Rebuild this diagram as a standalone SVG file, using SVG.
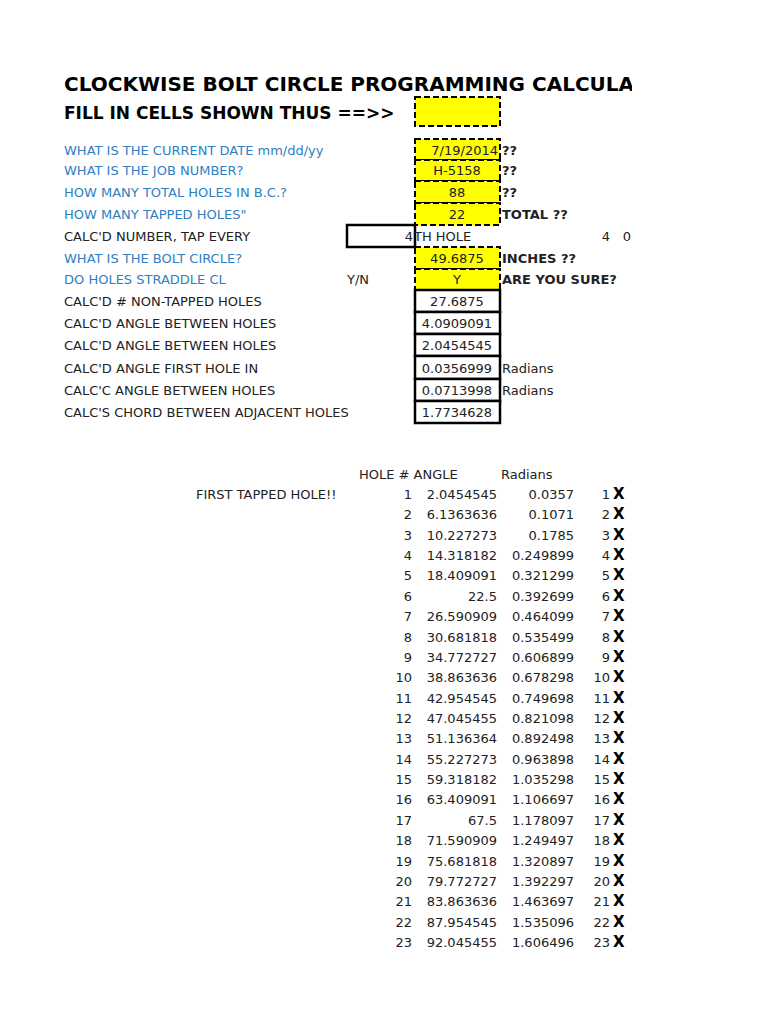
<svg xmlns="http://www.w3.org/2000/svg" width="768" height="1024" viewBox="0 0 768 1024">
<style>
text{font-family:"DejaVu Sans",sans-serif;font-size:13px;fill:#222}
.b{fill:#2f80c0}
.bd{font-weight:bold}
.r{text-anchor:end}
.c{text-anchor:middle}
.y{fill:#ffff00;stroke:#000;stroke-width:2;stroke-dasharray:6,3}
.k{fill:#fff;stroke:#000;stroke-width:2.5}
.x{font-weight:bold;font-size:15px;fill:#000}
</style>
<defs><clipPath id="cp"><rect x="0" y="60" width="632" height="40"/></clipPath></defs>
<rect width="768" height="1024" fill="#fff"/>
<text x="64" y="91" class="bd" style="font-size:20px;fill:#000" clip-path="url(#cp)">CLOCKWISE BOLT CIRCLE PROGRAMMING CALCULATOR</text>
<text x="64" y="119" class="bd" style="font-size:17px;fill:#000">FILL IN CELLS SHOWN THUS ==&gt;&gt;</text>
<g id="cells">
<rect class="y" x="415" y="97" width="85" height="29"/>
<rect class="y" x="415" y="139" width="85" height="21"/>
<rect class="y" x="415" y="160" width="85" height="21"/>
<rect class="y" x="415" y="181" width="85" height="22"/>
<rect class="y" x="415" y="203" width="85" height="22"/>
<rect class="k" x="347" y="225" width="68" height="22"/>
<rect class="y" x="415" y="247" width="85" height="22"/>
<rect class="y" x="415" y="269" width="85" height="21"/>
<rect class="k" x="415" y="290" width="85" height="22"/>
<rect class="k" x="415" y="312" width="85" height="22"/>
<rect class="k" x="415" y="334" width="85" height="22"/>
<rect class="k" x="415" y="356" width="85" height="23"/>
<rect class="k" x="415" y="379" width="85" height="22"/>
<rect class="k" x="415" y="401" width="85" height="22"/>
</g>
<g id="labels">
<text x="64" y="155" class="b">WHAT IS THE CURRENT DATE mm/dd/yy</text>
<text x="64" y="175" class="b">WHAT IS THE JOB NUMBER?</text>
<text x="64" y="197" class="b">HOW MANY TOTAL HOLES IN B.C.?</text>
<text x="64" y="219" class="b">HOW MANY TAPPED HOLES"</text>
<text x="64" y="241">CALC'D NUMBER, TAP EVERY</text>
<text x="64" y="263" class="b">WHAT IS THE BOLT CIRCLE?</text>
<text x="64" y="284" class="b">DO HOLES STRADDLE CL</text>
<text x="347" y="284">Y/N</text>
<text x="64" y="306">CALC'D # NON-TAPPED HOLES</text>
<text x="64" y="328">CALC'D ANGLE BETWEEN HOLES</text>
<text x="64" y="350">CALC'D ANGLE BETWEEN HOLES</text>
<text x="64" y="373">CALC'D ANGLE FIRST HOLE IN</text>
<text x="64" y="395">CALC'C ANGLE BETWEEN HOLES</text>
<text x="64" y="417">CALC'S CHORD BETWEEN ADJACENT HOLES</text>
<text x="498" y="155" class="r">7/19/2014</text>
<text x="457" y="175" class="c">H-5158</text>
<text x="457" y="197" class="c">88</text>
<text x="457" y="219" class="c">22</text>
<text x="413" y="241" class="r">4</text>
<text x="414" y="241">TH HOLE</text>
<text x="457" y="263" class="c">49.6875</text>
<text x="457" y="284" class="c">Y</text>
<text x="457" y="306" class="c">27.6875</text>
<text x="457" y="328" class="c">4.0909091</text>
<text x="457" y="350" class="c">2.0454545</text>
<text x="457" y="373" class="c">0.0356999</text>
<text x="457" y="395" class="c">0.0713998</text>
<text x="457" y="417" class="c">1.7734628</text>
<text x="502" y="155" class="bd">??</text>
<text x="502" y="175" class="bd">??</text>
<text x="502" y="197" class="bd">??</text>
<text x="502" y="219" class="bd">TOTAL ??</text>
<text x="610" y="241" class="r">4</text>
<text x="631" y="241" class="r">0</text>
<text x="502" y="263" class="bd">INCHES ??</text>
<text x="502" y="284" class="bd">ARE YOU SURE?</text>
<text x="502" y="373">Radians</text>
<text x="502" y="395">Radians</text>
</g>
<g id="table">
<text x="359" y="479">HOLE # ANGLE</text>
<text x="501" y="479">Radians</text>
<text x="196" y="499">FIRST TAPPED HOLE!!</text>
<g transform="translate(0,499)">
<text x="412" y="0" class="r">1</text><text x="497" y="0" class="r">2.0454545</text><text x="574" y="0" class="r">0.0357</text><text x="610" y="0" class="r">1</text><text x="613" y="0" class="x">X</text>
</g>
<g transform="translate(0,519.4)"><text x="412" class="r">2</text><text x="497" class="r">6.1363636</text><text x="574" class="r">0.1071</text><text x="610" class="r">2</text><text x="613" class="x">X</text></g>
<g transform="translate(0,539.7)"><text x="412" class="r">3</text><text x="497" class="r">10.227273</text><text x="574" class="r">0.1785</text><text x="610" class="r">3</text><text x="613" class="x">X</text></g>
<g transform="translate(0,560.1)"><text x="412" class="r">4</text><text x="497" class="r">14.318182</text><text x="574" class="r">0.249899</text><text x="610" class="r">4</text><text x="613" class="x">X</text></g>
<g transform="translate(0,580.4)"><text x="412" class="r">5</text><text x="497" class="r">18.409091</text><text x="574" class="r">0.321299</text><text x="610" class="r">5</text><text x="613" class="x">X</text></g>
<g transform="translate(0,600.8)"><text x="412" class="r">6</text><text x="497" class="r">22.5</text><text x="574" class="r">0.392699</text><text x="610" class="r">6</text><text x="613" class="x">X</text></g>
<g transform="translate(0,621.2)"><text x="412" class="r">7</text><text x="497" class="r">26.590909</text><text x="574" class="r">0.464099</text><text x="610" class="r">7</text><text x="613" class="x">X</text></g>
<g transform="translate(0,641.5)"><text x="412" class="r">8</text><text x="497" class="r">30.681818</text><text x="574" class="r">0.535499</text><text x="610" class="r">8</text><text x="613" class="x">X</text></g>
<g transform="translate(0,661.9)"><text x="412" class="r">9</text><text x="497" class="r">34.772727</text><text x="574" class="r">0.606899</text><text x="610" class="r">9</text><text x="613" class="x">X</text></g>
<g transform="translate(0,682.2)"><text x="412" class="r">10</text><text x="497" class="r">38.863636</text><text x="574" class="r">0.678298</text><text x="610" class="r">10</text><text x="613" class="x">X</text></g>
<g transform="translate(0,702.6)"><text x="412" class="r">11</text><text x="497" class="r">42.954545</text><text x="574" class="r">0.749698</text><text x="610" class="r">11</text><text x="613" class="x">X</text></g>
<g transform="translate(0,723)"><text x="412" class="r">12</text><text x="497" class="r">47.045455</text><text x="574" class="r">0.821098</text><text x="610" class="r">12</text><text x="613" class="x">X</text></g>
<g transform="translate(0,743.3)"><text x="412" class="r">13</text><text x="497" class="r">51.136364</text><text x="574" class="r">0.892498</text><text x="610" class="r">13</text><text x="613" class="x">X</text></g>
<g transform="translate(0,763.7)"><text x="412" class="r">14</text><text x="497" class="r">55.227273</text><text x="574" class="r">0.963898</text><text x="610" class="r">14</text><text x="613" class="x">X</text></g>
<g transform="translate(0,784)"><text x="412" class="r">15</text><text x="497" class="r">59.318182</text><text x="574" class="r">1.035298</text><text x="610" class="r">15</text><text x="613" class="x">X</text></g>
<g transform="translate(0,804.4)"><text x="412" class="r">16</text><text x="497" class="r">63.409091</text><text x="574" class="r">1.106697</text><text x="610" class="r">16</text><text x="613" class="x">X</text></g>
<g transform="translate(0,824.8)"><text x="412" class="r">17</text><text x="497" class="r">67.5</text><text x="574" class="r">1.178097</text><text x="610" class="r">17</text><text x="613" class="x">X</text></g>
<g transform="translate(0,845.1)"><text x="412" class="r">18</text><text x="497" class="r">71.590909</text><text x="574" class="r">1.249497</text><text x="610" class="r">18</text><text x="613" class="x">X</text></g>
<g transform="translate(0,865.5)"><text x="412" class="r">19</text><text x="497" class="r">75.681818</text><text x="574" class="r">1.320897</text><text x="610" class="r">19</text><text x="613" class="x">X</text></g>
<g transform="translate(0,885.8)"><text x="412" class="r">20</text><text x="497" class="r">79.772727</text><text x="574" class="r">1.392297</text><text x="610" class="r">20</text><text x="613" class="x">X</text></g>
<g transform="translate(0,906.2)"><text x="412" class="r">21</text><text x="497" class="r">83.863636</text><text x="574" class="r">1.463697</text><text x="610" class="r">21</text><text x="613" class="x">X</text></g>
<g transform="translate(0,926.6)"><text x="412" class="r">22</text><text x="497" class="r">87.954545</text><text x="574" class="r">1.535096</text><text x="610" class="r">22</text><text x="613" class="x">X</text></g>
<g transform="translate(0,946.9)"><text x="412" class="r">23</text><text x="497" class="r">92.045455</text><text x="574" class="r">1.606496</text><text x="610" class="r">23</text><text x="613" class="x">X</text></g>
</g>
</svg>
